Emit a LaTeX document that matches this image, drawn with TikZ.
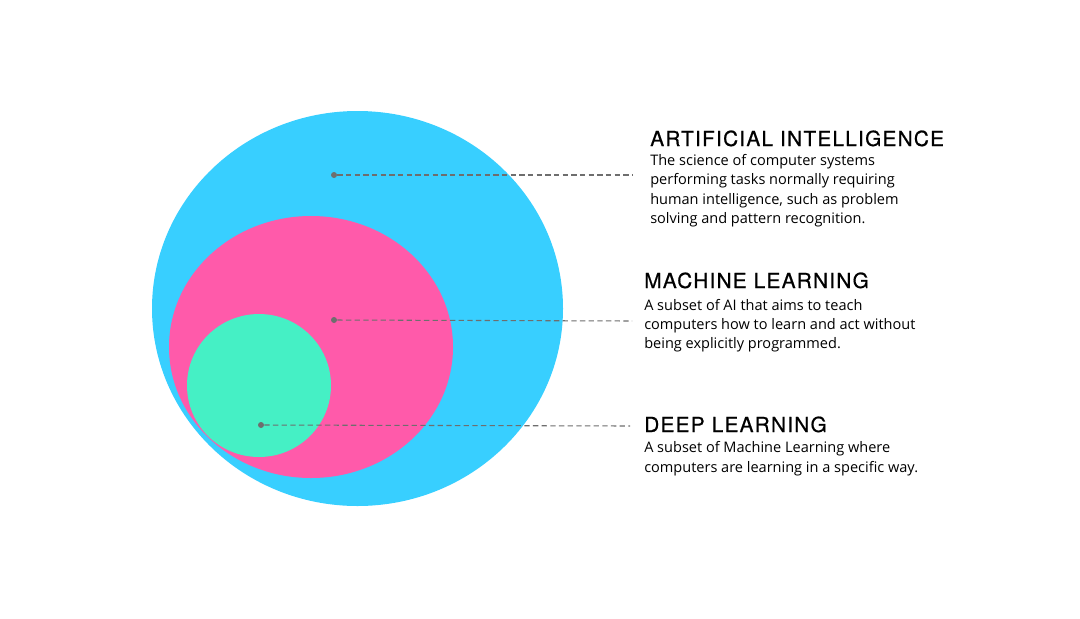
\documentclass[tikz,border=0pt]{standalone}
\usepackage{fontspec}
\setmainfont{Open Sans}
\newfontfamily\headfont[LetterSpace=6, FakeBold=0.6]{TeX Gyre Heros}
\usetikzlibrary{positioning}
\definecolor{ai_blue}{RGB}{56,207,255}
\definecolor{ml_pink}{RGB}{255,90,170}
\definecolor{dl_green}{RGB}{69,240,197}
\definecolor{line_grey}{RGB}{110,110,110}
\tikzset{x=0.75pt, y=-0.75pt}

\begin{document}
\begin{tikzpicture}[dot/.style={circle, fill=line_grey, inner sep=0pt, minimum size=4.5pt},
leader/.style={line_grey, dashed, dash pattern=on 4pt off 2.5pt, line width=0.8pt},
head/.style={anchor=base west, inner sep=0pt, font=\headfont\fontsize{15.6}{17}\selectfont},
body/.style={anchor=north west, inner sep=0pt, align=left, font=\fontsize{10.9}{14.6}\selectfont}]
    \useasboundingbox (0,0) rectangle (1080,618);
    \fill[white] (0,0) rectangle (1080,618);

    % the three sets
    \fill[ai_blue] (357.5,308.5) ellipse [x radius=205.5, y radius=197.5];
    \fill[ml_pink] (311,347) ellipse [x radius=142, y radius=131];
    \fill[dl_green] (259,385.5) ellipse [x radius=72, y radius=71.5];

    \node[dot] (ai_dot) at (334,175) {};
    \node[dot] (ml_dot) at (334,320) {};
    \node[dot] (dl_dot) at (261,425) {};
    \coordinate (ai_end) at (632,175);
    \coordinate (ml_end) at (632,321);
    \coordinate (dl_end) at (630,426);
    \draw[leader] (ai_dot) -- (ai_end);
    \draw[leader] (ml_dot) -- (ml_end);
    \draw[leader] (dl_dot) -- (dl_end);

    % labels
    \node[head] (ai_head) at (650,146) {ARTIFICIAL INTELLIGENCE};
    \node[body, below=5.5pt of ai_head.south west, anchor=north west] (ai_text) {The science of computer systems\\performing tasks normally requiring\\human intelligence, such as problem\\solving and pattern recognition.};
    \node[head] (ml_head) at (644,288) {MACHINE LEARNING};
    \node[body, below=7.5pt of ml_head.south west, anchor=north west] (ml_text) {A subset of AI that aims to teach\\computers how to learn and act without\\being explicitly programmed.};
    \node[head] (dl_head) at (644,432) {DEEP LEARNING};
    \node[body, below=6.5pt of dl_head.south west, anchor=north west] (dl_text) {A subset of Machine Learning where\\computers are learning in a specific way.};
\end{tikzpicture}
\end{document}
